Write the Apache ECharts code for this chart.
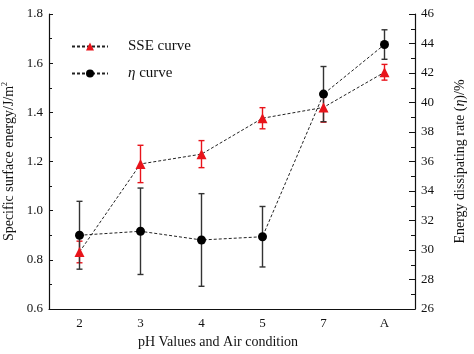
<!DOCTYPE html>
<html>
<head>
<meta charset="utf-8">
<script src="https://cdn.jsdelivr.net/npm/echarts@6/dist/echarts.min.js"></script>
<style>
  html, body { margin: 0; padding: 0; background: #fff; }
  #chart { width: 474px; height: 354px; }
</style>
</head>
<body>
<div id="chart"></div>
<script>
// x categories: pH values plus air (A)
const categories = ['2', '3', '4', '5', '7', 'A']
// specific surface energy (J/m2) with error
const sseMean = [0.832, 1.19, 1.23, 1.376, 1.42, 1.563]
const sseErr = [0.044, 0.076, 0.055, 0.043, 0.06, 0.032]
// energy dissipating rate (%) with error
const etaMean = [31.0, 31.27, 30.68, 30.9, 40.57, 43.93]
const etaErr = [2.3, 2.93, 3.14, 2.05, 1.87, 1.0]

const serif = 'Liberation Serif'
const chart = echarts.init(document.getElementById('chart'))

// error bars drawn with a custom series
function errorBars (yIndex, mean, err, color) {
  return {
    type: 'custom',
    xAxisIndex: 0,
    yAxisIndex: yIndex,
    silent: true,
    z: 1,
    encode: { x: 0, y: [1, 2] },
    data: mean.map((m, i) => [i, m - err[i], m + err[i]]),
    renderItem (params, api) {
      const lo = api.coord([api.value(0), api.value(1)])
      const hi = api.coord([api.value(0), api.value(2)])
      const w = 3
      const style = { stroke: color, lineWidth: 1.4 }
      return {
        type: 'group',
        children: [
          { type: 'line', shape: { x1: hi[0], y1: hi[1], x2: lo[0], y2: lo[1] }, style },
          { type: 'line', shape: { x1: hi[0] - w, y1: hi[1], x2: hi[0] + w, y2: hi[1] }, style },
          { type: 'line', shape: { x1: lo[0] - w, y1: lo[1], x2: lo[0] + w, y2: lo[1] }, style }
        ]
      }
    }
  }
}

const axisText = { color: '#111', fontFamily: serif, fontSize: 13 }

chart.setOption({
  animation: false,
  textStyle: { fontFamily: serif },
  grid: { left: 49, right: 59, top: 14, bottom: 45, outerBoundsMode: 'none', containLabel: false },
  legend: {
    orient: 'vertical',
    left: 66,
    top: 34,
    itemWidth: 36,
    itemHeight: 10,
    itemGap: 12,
    data: ['SSE curve', 'eta'],
    formatter: name => name === 'eta' ? '{i|η} curve' : name,
    textStyle: {
      color: '#111',
      fontFamily: serif,
      fontSize: 15,
      padding: [0, 0, 0, 15],
      rich: { i: { fontStyle: 'italic', fontFamily: serif, fontSize: 15 } }
    }
  },
  xAxis: [{
    type: 'category',
    data: categories,
    name: 'pH Values and Air condition',
    nameLocation: 'middle',
    nameGap: 26,
    nameTextStyle: { color: '#111', fontFamily: serif, fontSize: 14, padding: [0, 28, 0, 0] },
    axisLine: { lineStyle: { color: '#111', width: 1.2 } },
    axisTick: { alignWithLabel: true, length: 5, lineStyle: { color: '#111' } },
    axisLabel: Object.assign({ margin: 8 }, axisText)
  }, {
    type: 'category',
    data: categories,
    position: 'bottom',
    axisLine: { show: false },
    axisTick: { length: 4, lineStyle: { color: '#111' } },
    axisLabel: { show: false }
  }],
  yAxis: [{
    type: 'value',
    min: 0.6,
    max: 1.8,
    interval: 0.2,
    name: 'Specific surface energy/J/m{s|2}',
    nameLocation: 'middle',
    nameRotate: 90,
    nameGap: 30,
    nameTextStyle: {
      color: '#111', fontFamily: serif, fontSize: 14,
      rich: { s: { fontSize: 8, fontFamily: serif, color: '#111', padding: [0, 0, 8, 0] } }
    },
    axisLine: { show: true, lineStyle: { color: '#111', width: 1.2 } },
    axisTick: { show: true, inside: true, length: 4, lineStyle: { color: '#111' } },
    minorTick: { show: true, splitNumber: 2, length: 3, lineStyle: { color: '#111' } },
    splitLine: { show: false },
    axisLabel: Object.assign({ margin: 6, formatter: v => v.toFixed(1) }, axisText)
  }, {
    type: 'value',
    min: 26,
    max: 46,
    interval: 2,
    position: 'right',
    name: 'Energy dissipating rate ({i|η})/%',
    nameLocation: 'middle',
    nameRotate: 90,
    nameGap: 38,
    nameTextStyle: {
      color: '#111', fontFamily: serif, fontSize: 14,
      rich: { i: { fontStyle: 'italic', fontFamily: serif, fontSize: 14, color: '#111' } }
    },
    axisLine: { show: true, lineStyle: { color: '#111', width: 1.2 } },
    axisTick: { show: true, inside: true, length: 6, lineStyle: { color: '#111' } },
    minorTick: { show: true, splitNumber: 2, length: 4, lineStyle: { color: '#111' } },
    splitLine: { show: false },
    axisLabel: Object.assign({ margin: 6 }, axisText)
  }],
  series: [
    errorBars(0, sseMean, sseErr, '#e8141b'),
    errorBars(1, etaMean, etaErr, '#333'),
    {
      name: 'SSE curve',
      type: 'line',
      yAxisIndex: 0,
      data: sseMean,
      symbol: 'triangle',
      symbolSize: 10,
      z: 3,
      itemStyle: { color: '#e8141b' },
      lineStyle: { color: '#222', width: 1, type: [3, 2] }
    },
    {
      name: 'eta',
      type: 'line',
      yAxisIndex: 1,
      data: etaMean,
      symbol: 'circle',
      symbolSize: 9,
      z: 3,
      itemStyle: { color: '#000' },
      lineStyle: { color: '#222', width: 1, type: [3, 2] }
    }
  ]
})
</script>
</body>
</html>
